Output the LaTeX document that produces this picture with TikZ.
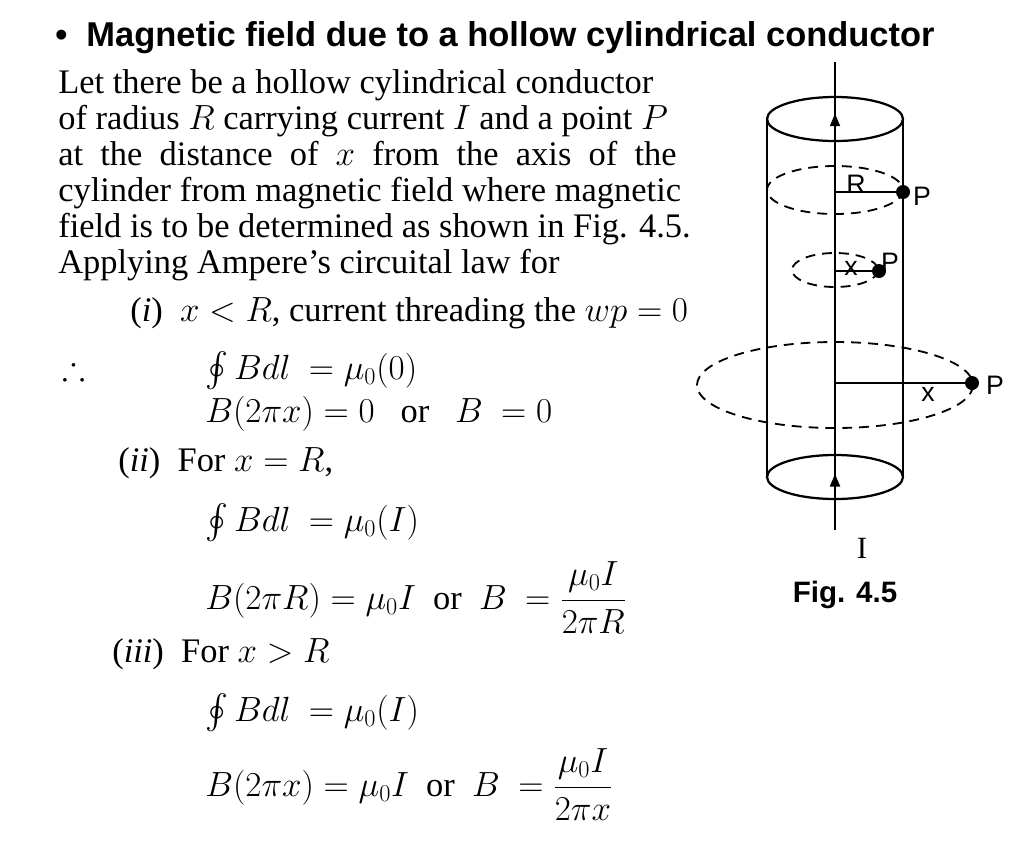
\documentclass[tikz,border=0pt]{standalone}
\usepackage{amsmath}
\usepackage{amssymb}
\usepackage{fontspec}
\setmainfont{Liberation Serif}
\setsansfont{Liberation Sans}
\usetikzlibrary{arrows.meta,decorations.markings}
\begin{document}
\begin{tikzpicture}[x=0.025cm,y=-0.025cm,
		txt/.style={anchor=base west, inner sep=0pt, font=\fontsize{24.5}{28}\selectfont},
		lbl/.style={inner sep=0pt, font=\sffamily\fontsize{19}{22}\selectfont},
		loop/.style={dashed, dash pattern=on 7pt off 5pt, line width=1.3pt},
		dot/.style={circle, fill=black, inner sep=0pt, minimum size=3.5mm},
		axis arrow/.style={
			decoration={markings,
				mark=at position 0.12 with {\arrow{Triangle[length=9pt,width=7pt]}},
				mark=at position 0.89 with {\arrow{Triangle[length=9pt,width=7pt]}}},
			postaction=decorate}
	]
	\useasboundingbox (0,0) rectangle (1024,843);
	% heading and text
	\node[anchor=west, inner sep=0pt, font=\sffamily\bfseries\fontsize{24.5}{28}\selectfont] (title) at (55,38) {\textbullet\ \ Magnetic field due to a hollow cylindrical conductor};
	\node[txt] (l1) at (58,93) {Let there be a hollow cylindrical conductor};
	\node[txt] (l2) at (58,129) {of radius $R$ carrying current $I$ and a point $P$};
	\node[txt] (l3) at (58,165) {at \ the \ distance \ of \ $x$ \ from \ the \ axis \ of \ the};
	\node[txt] (l4) at (58,201) {cylinder from magnetic field where magnetic};
	\node[txt] (l5) at (58,237) {field is to be determined as shown in Fig. 4.5.};
	\node[txt] (l6) at (58,273) {Applying Ampere's circuital law for};
	\node[txt] (c1) at (130,321) {(\textit{i}) \ $x<R$, current threading the $wp=0$};
	\node[txt] (so) at (62,379) {$\therefore$};
	\node[txt] (e1) at (205,379) {$\oint Bdl\ =\mu_0(0)$};
	\node[txt] (e2) at (205,422) {$B(2\pi x)=0$ \ \ or \ \ $B\ =0$};
	\node[txt] (c2) at (118,471) {(\textit{ii}) \ For $x=R$,};
	\node[txt] (e3) at (205,531) {$\oint Bdl\ =\mu_0(I)$};
	\node[txt] (e4) at (205,609) {$B(2\pi R)=\mu_0 I$ \ or \ $B\ =\dfrac{\mu_0 I}{2\pi R}$};
	\node[txt] (c3) at (112,662) {(\textit{iii}) \ For $x>R$};
	\node[txt] (e5) at (205,721) {$\oint Bdl\ =\mu_0(I)$};
	\node[txt] (e6) at (205,796) {$B(2\pi x)=\mu_0 I$ \ or \ $B\ =\dfrac{\mu_0 I}{2\pi x}$};
	% cylinder
	\begin{scope}[line width=1.6pt]
		\draw (835,119) ellipse [x radius=68, y radius=22];
		\draw (835,477) ellipse [x radius=68, y radius=22];
		\draw (767,119) -- (767,477);
		\draw (903,119) -- (903,477);
	\end{scope}
	% loops
	\draw[loop] (835,190) ellipse [x radius=68, y radius=24];
	\draw[loop] (835,270) ellipse [x radius=43, y radius=17];
	\draw[loop] (835,385) ellipse [x radius=138, y radius=43];
	% axis
	\coordinate (top) at (835,62);
	\coordinate (bot) at (835,530);
	\draw[line width=1.6pt, axis arrow] (bot) -- (top);
	% points
	\coordinate (o1) at (835,192);
	\coordinate (o2) at (835,271);
	\coordinate (o3) at (835,383);
	\node[dot] (p1) at (903,192) {};
	\node[dot] (p2) at (879,271) {};
	\node[dot] (p3) at (972,383) {};
	\draw[line width=1.3pt] (o1) -- (p1);
	\draw[line width=1.3pt] (o2) -- (p2);
	\draw[line width=1.3pt] (o3) -- (p3);
	\node[lbl] (pl1) at (922,196) {P};
	\node[lbl] (pl2) at (890,262) {P};
	\node[lbl] (pl3) at (995,385) {P};
	\node[lbl] (rl) at (856,184) {R};
	\node[lbl] (xl1) at (851,268) {x};
	\node[lbl] (xl2) at (928,394) {x};
	\node[inner sep=0pt, font=\fontsize{22}{26}\selectfont] (il) at (862,548) {I};
	\node[inner sep=0pt, font=\sffamily\bfseries\fontsize{21}{24}\selectfont] (fig) at (845,595) {Fig. 4.5};
\end{tikzpicture}
\end{document}
